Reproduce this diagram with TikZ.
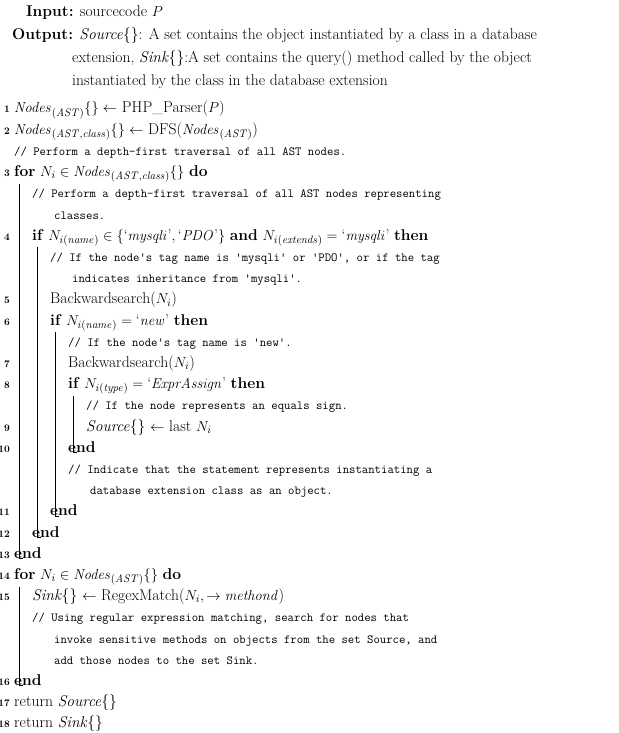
\documentclass[tikz,border=0pt]{standalone}
\usepackage{amsmath,amssymb}
\tikzset{
 txt/.style={anchor=base west,inner sep=0pt,font=\fontsize{15.6}{18}\selectfont},
 cmt/.style={anchor=base west,inner sep=0pt,font=\fontsize{12.4}{14}\selectfont\ttfamily},
 num/.style={anchor=base east,inner sep=0pt,font=\fontsize{10}{12}\selectfont\bfseries},
 blk/.style={line width=0.5pt}
}
\newcommand{\R}[1]{\pgfmathsetmacro\yy{-(113+21.2*#1)}}
\newcommand{\Blk}[3]{\pgfmathsetmacro\ya{-(113+21.2*#2)+14}\pgfmathsetmacro\yb{-(113+21.2*#3)}\draw[blk] (#1,\ya) -- (#1,\yb) -- ++(4,0);}
\begin{document}
\begin{tikzpicture}[x=1pt,y=1pt]
\useasboundingbox (0,0) rectangle (618,-733);
% header
\node[txt] (in) at (26,-17) {\textbf{Input:} sourcecode $P$};
\node[txt] (out) at (12,-40) {\textbf{Output:} \textit{Source}\{\}: A set contains the object instantiated by a class in a database};
\node[txt] (out2) at (72,-63) {extension, \textit{Sink}\{\}:A set contains the query() method called by the object};
\node[txt] (out3) at (72,-86) {instantiated by the class in the database extension};
\newcommand{\Ln}[4]{\R{#2}\node[num] (n#1) at (10,\yy) {#1};\node[txt] (l#1) at (#3,\yy) {#4};}
\newcommand{\Cm}[4]{\R{#2}\node[cmt] (#1) at (#3,\yy) {#4};}
\Ln{1}{0}{14}{$\mathit{Nodes}_{(\mathit{AST})}\{\}\leftarrow$ PHP\_Parser($P$)}
\Ln{2}{1}{14}{$\mathit{Nodes}_{(\mathit{AST},\mathit{class})}\{\}\leftarrow$ DFS($\mathit{Nodes}_{(\mathit{AST})}$)}
\Cm{c1}{2}{14}{// Perform a depth-first traversal of all AST nodes.}
\Ln{3}{3}{14}{\textbf{for} $N_i\in \mathit{Nodes}_{(\mathit{AST},\mathit{class})}\{\}$ \textbf{do}}
\Cm{c2}{4}{32}{// Perform a depth-first traversal of all AST nodes representing}
\Cm{c2b}{5}{54}{classes.}
\Ln{4}{6}{32}{\textbf{if} $N_{i(\mathit{name})}\in\{\text{`}\mathit{mysqli}\text{'},\text{`}\mathit{PDO}\text{'}\}$ \textbf{and} $N_{i(\mathit{extends})}=\text{`}\mathit{mysqli}\text{'}$ \textbf{then}}
\Cm{c3}{7}{50}{// If the node's tag name is 'mysqli' or 'PDO', or if the tag}
\Cm{c3b}{8}{72}{indicates inheritance from 'mysqli'.}
\Ln{5}{9}{50}{Backwardsearch($N_i$)}
\Ln{6}{10}{50}{\textbf{if} $N_{i(\mathit{name})}=\text{`}\mathit{new}\text{'}$ \textbf{then}}
\Cm{c4}{11}{68}{// If the node's tag name is 'new'.}
\Ln{7}{12}{68}{Backwardsearch($N_i$)}
\Ln{8}{13}{68}{\textbf{if} $N_{i(\mathit{type})}=\text{`}\mathit{ExprAssign}\text{'}$ \textbf{then}}
\Cm{c5}{14}{86}{// If the node represents an equals sign.}
\Ln{9}{15}{86}{\textit{Source}\{\} $\leftarrow$ last $N_i$}
\Ln{10}{16}{68}{\textbf{end}}
\Cm{c6}{17}{68}{// Indicate that the statement represents instantiating a}
\Cm{c6b}{18}{90}{database extension class as an object.}
\Ln{11}{19}{50}{\textbf{end}}
\Ln{12}{20}{32}{\textbf{end}}
\Ln{13}{21}{14}{\textbf{end}}
\Ln{14}{22}{14}{\textbf{for} $N_i\in \mathit{Nodes}_{(\mathit{AST})}\{\}$ \textbf{do}}
\Ln{15}{23}{32}{\textit{Sink}\{\} $\leftarrow$ RegexMatch($N_i,\rightarrow \mathit{methond}$)}
\Cm{c7}{24}{32}{// Using regular expression matching, search for nodes that}
\Cm{c7b}{25}{54}{invoke sensitive methods on objects from the set Source, and}
\Cm{c7c}{26}{54}{add those nodes to the set Sink.}
\Ln{16}{27}{14}{\textbf{end}}
\Ln{17}{28}{14}{return \textit{Source}\{\}}
\Ln{18}{29}{14}{return \textit{Sink}\{\}}
% block lines
\Blk{19}{4}{21}
\Blk{37}{7}{20}
\Blk{55}{11}{19}
\Blk{73}{14}{16}
\Blk{19}{23}{27}
\end{tikzpicture}
\end{document}
